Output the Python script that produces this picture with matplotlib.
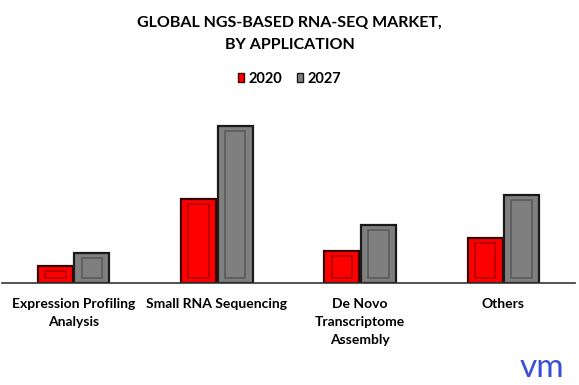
import matplotlib.pyplot as plt
import numpy as np

CATEGORIES = ["Expression Profiling\nAnalysis", "Small RNA Sequencing",
              "De Novo\nTranscriptome\nAssembly", "Others"]
YEARS = ["2020", "2027"]
VALUES_2020 = [17, 84, 32, 45]
VALUES_2027 = [30, 157, 58, 88]


def bevel_bars(ax, x, values, width, face, edge, inner):
    ax.bar(x, values, width=width, color=face, edgecolor=edge, linewidth=1.6, zorder=2)
    inset = 5
    h = [max(v - 2 * inset, 1) for v in values]
    ax.bar(x, h, bottom=inset, width=width * 0.58, color="none",
           edgecolor=inner, linewidth=1.2, zorder=3)


def main():
    plt.rcParams["font.family"] = ["Lato", "DejaVu Sans"]
    fig = plt.figure(figsize=(5.79, 3.85), dpi=100)
    ax = fig.add_axes([2 / 579, 102 / 385, 573 / 579, 173 / 385])

    x = np.arange(len(CATEGORIES))
    w = 0.245
    bevel_bars(ax, x - w / 2 - 0.005, VALUES_2020, w, "#ff0000", "#3a0000", "#b00000")
    bevel_bars(ax, x + w / 2 + 0.005, VALUES_2027, w, "#7f7f7f", "#1a1a1a", "#5a5a5a")

    ax.set_xlim(-0.5, 3.5)
    ax.set_ylim(0, 173)
    ax.set_yticks([])
    for s in ["top", "left", "right"]:
        ax.spines[s].set_visible(False)
    ax.spines["bottom"].set_color("#333333")
    ax.spines["bottom"].set_linewidth(1.2)
    ax.set_xticks(x)
    ax.set_xticklabels(CATEGORIES, fontsize=10, fontweight="bold", linespacing=1.6)
    ax.tick_params(axis="x", length=0, pad=11)

    fig.text(0.5, 1 - 33.5 / 385, "GLOBAL NGS-BASED RNA-SEQ MARKET,\nBY APPLICATION",
             ha="center", va="center", fontsize=11.5, fontweight="bold", linespacing=1.75)

    handles = [plt.Rectangle((0, 0), 1, 1, facecolor="#ff0000", edgecolor="#3a0000"),
               plt.Rectangle((0, 0), 1, 1, facecolor="#7f7f7f", edgecolor="#1a1a1a")]
    fig.legend(handles, YEARS, loc="center", bbox_to_anchor=(0.5, 1 - 79 / 385),
               ncol=2, frameon=False, prop={"weight": "bold", "size": 10.5},
               handlelength=0.45, handleheight=0.6, handletextpad=0.3, columnspacing=1.0)

    fig.text(0.975, 0.005, "vm", ha="right", va="bottom", fontsize=24,
             color="#3b4fd6")

    fig.savefig("out.png", dpi=100)


if __name__ == "__main__":
    main()
